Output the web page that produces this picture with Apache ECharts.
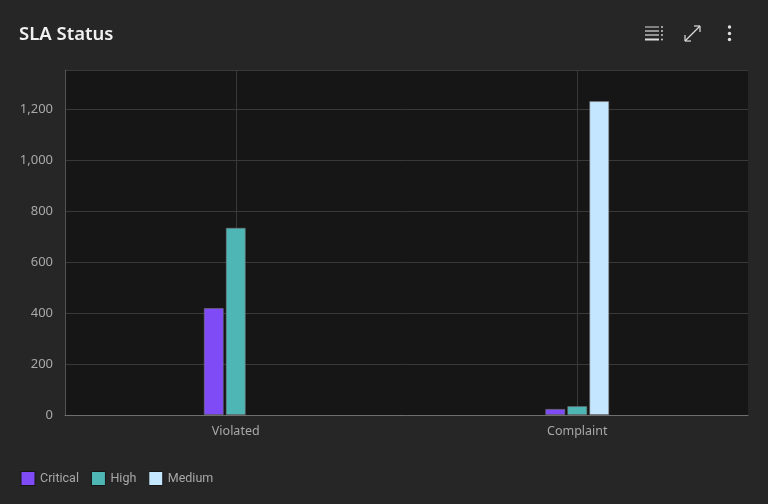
<!DOCTYPE html>
<html>
<head>
<meta charset="utf-8">
<title>SLA Status</title>
<style>
html, body { margin: 0; padding: 0; background: #262626; }
#main { width: 768px; height: 504px; }
</style>
<script src="https://cdn.jsdelivr.net/npm/echarts@6/dist/echarts.min.js"></script>
</head>
<body>
<div id="main"></div>
<script>
// data
var categories = ['Violated', 'Complaint'];
var critical = [420, 24];
var high = [735, 35];
var medium = [0, 1232];
var yTicks = [0, 200, 400, 600, 800, 1000, 1200];

var fontName = '"Noto Sans", Roboto, sans-serif';
var textColor = '#a8a8a8';
var lineColor = '#393939';

var chart = echarts.init(document.getElementById('main'));

function buildSeries(name, data, color) {
    // a zero bar should not leave its border on the axis
    let items = data.map(function (v) {
        return v === 0 ? { value: v, itemStyle: { borderWidth: 0 } } : v;
    });
    return {
        name: name,
        type: 'bar',
        data: items,
        barWidth: 20,
        barGap: '10%',
        itemStyle: { color: color, borderColor: 'rgba(120,120,120,0.55)', borderWidth: 1 }
    };
}

// header icons (list, expand, overflow menu)
function iconLine(x1, y1, x2, y2, w) {
    return { type: 'line', shape: { x1: x1, y1: y1, x2: x2, y2: y2 }, style: { stroke: '#dcdcdc', lineWidth: w } };
}
function iconDot(x, y, r) {
    return { type: 'circle', shape: { cx: x, cy: y, r: r }, style: { fill: '#e0e0e0' } };
}
var icons = [
    iconLine(645, 27, 659, 27, 1), iconLine(645, 31, 659, 31, 1.2),
    iconLine(645, 35, 659, 35, 1.2), iconLine(645, 39.5, 659, 39.5, 2),
    iconDot(662, 27, 0.9), iconDot(662, 31, 0.9), iconDot(662, 35, 0.9), iconDot(662, 39.5, 0.9),
    iconLine(685, 41, 700, 26, 1.2),
    iconLine(694, 26, 700, 26, 1.2), iconLine(700, 26, 700, 32, 1.2),
    iconLine(685, 35, 685, 41, 1.2), iconLine(685, 41, 691, 41, 1.2),
    iconDot(729.5, 27, 1.7), iconDot(729.5, 33.5, 1.7), iconDot(729.5, 39.5, 1.7)
];

var option = {
    backgroundColor: '#262626',
    animation: false,
    textStyle: { fontFamily: fontName },
    title: {
        text: 'SLA Status',
        left: 19,
        top: 25,
        padding: 0,
        textStyle: { color: '#f0f0f0', fontSize: 18.5, fontWeight: 600, fontFamily: fontName }
    },
    legend: {
        left: 20.5,
        top: 471,
        padding: 0,
        icon: 'rect',
        itemWidth: 14,
        itemHeight: 14,
        itemGap: 12,
        itemStyle: { borderColor: '#161616', borderWidth: 1 },
        textStyle: { color: textColor, fontSize: 12.5, fontFamily: 'Roboto, sans-serif', padding: [1, 0, 0, 0] },
        data: ['Critical', 'High', 'Medium']
    },
    grid: {
        left: 65,
        right: 20,
        top: 70,
        bottom: 89,
        show: true,
        backgroundColor: '#161616',
        borderWidth: 0
    },
    xAxis: {
        type: 'category',
        data: categories,
        axisLine: { lineStyle: { color: '#6f6f6f', width: 1 } },
        axisTick: { show: false },
        axisLabel: { color: textColor, fontSize: 12.5, margin: 10, fontFamily: fontName },
        splitLine: { show: true, alignWithLabel: true, lineStyle: { color: lineColor, width: 1 } }
    },
    yAxis: {
        type: 'value',
        min: 0,
        max: 1354,
        interval: 200,
        axisLine: { show: true, lineStyle: { color: '#525252', width: 1 } },
        axisTick: { show: false },
        axisLabel: {
            color: textColor,
            fontSize: 13,
            margin: 12,
            fontFamily: fontName,
            showMaxLabel: false,
            formatter: function (v) {
                return yTicks.indexOf(v) >= 0 ? v.toLocaleString('en-US') : '';
            }
        },
        splitLine: { show: true, lineStyle: { color: lineColor, width: 1 } }
    },
    series: [
        buildSeries('Critical', critical, '#7e4bf7'),
        buildSeries('High', high, '#4fb6b6'),
        buildSeries('Medium', medium, '#c4e6ff')
    ],
    graphic: icons
};
chart.setOption(option);
</script>
</body>
</html>
